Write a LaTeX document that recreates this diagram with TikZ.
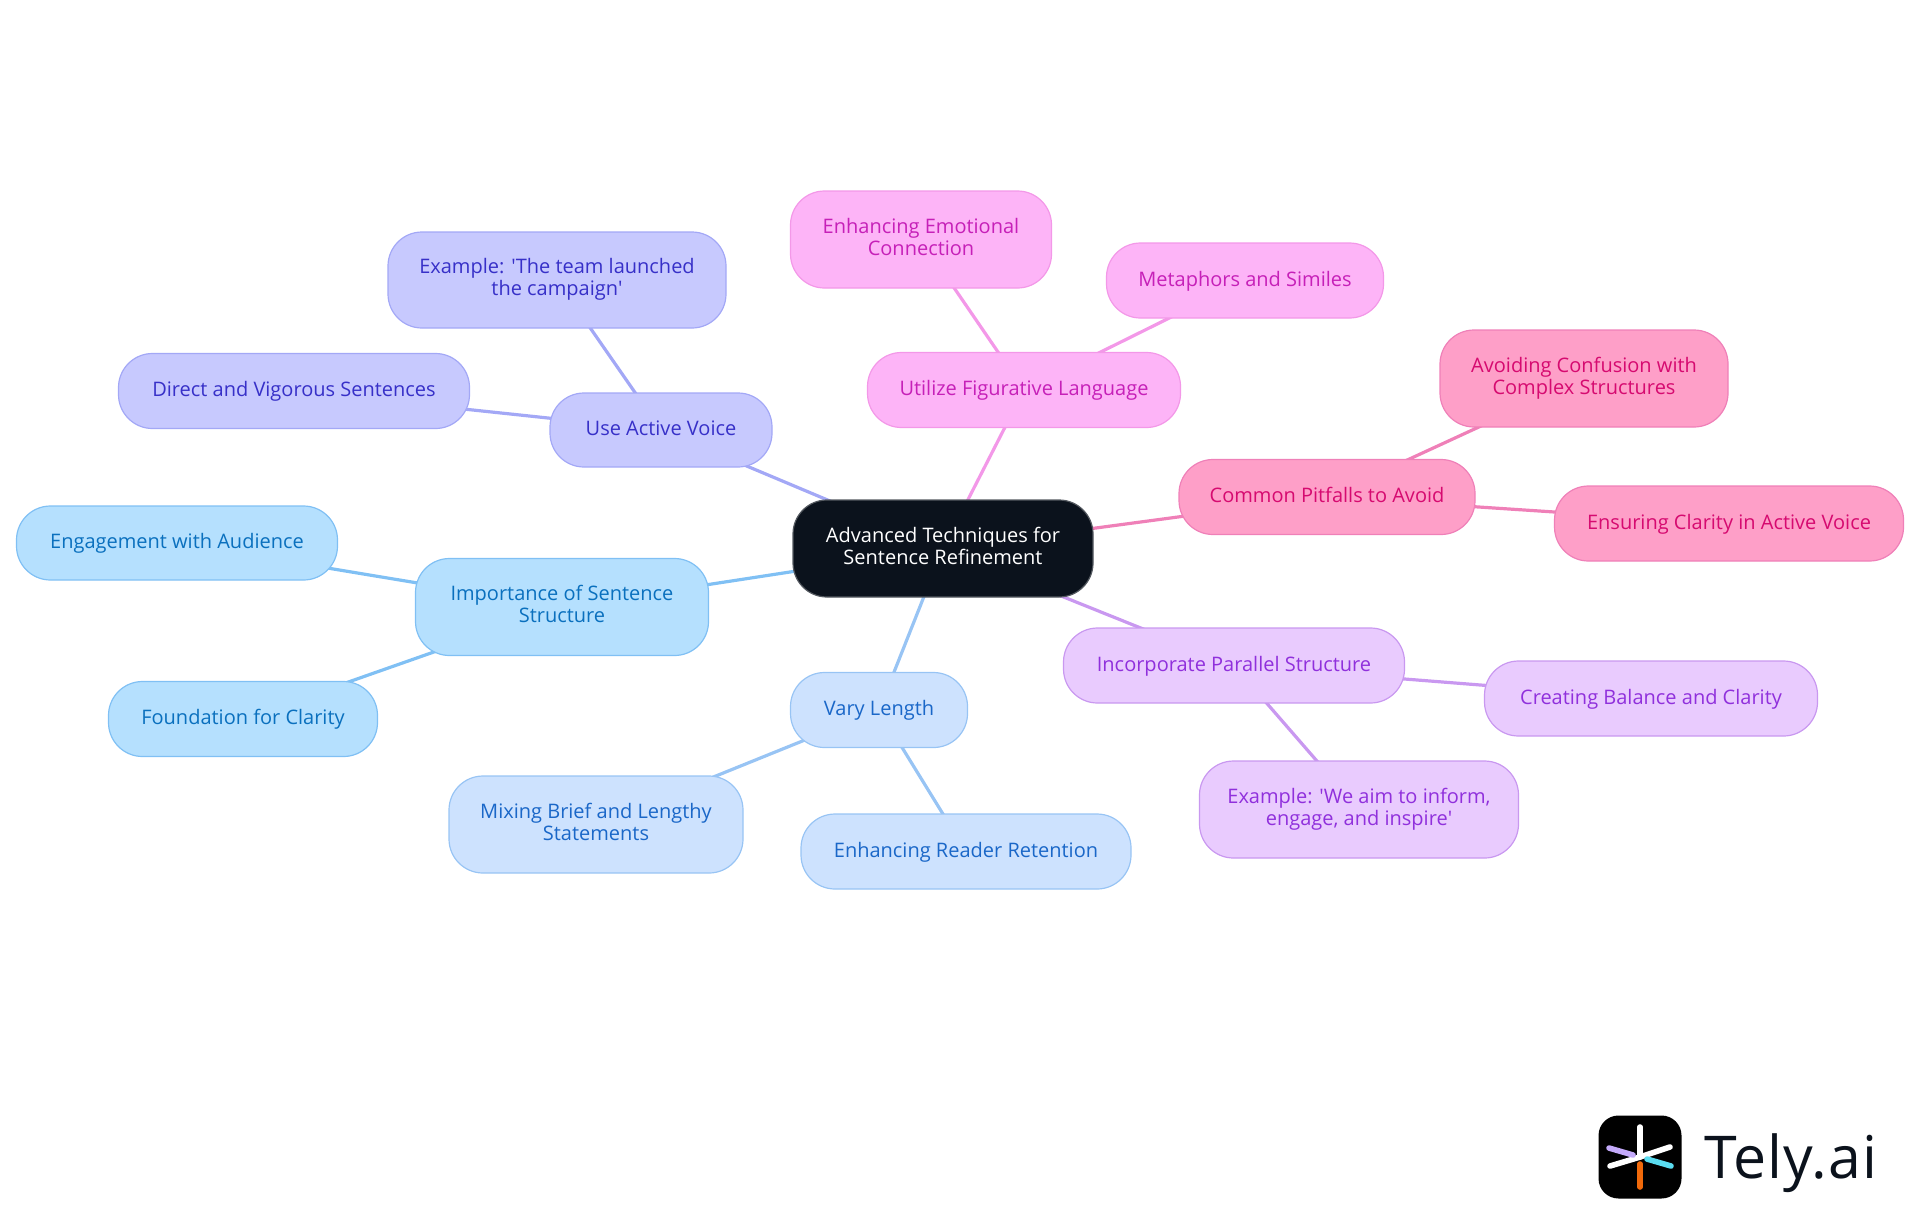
\documentclass[tikz,border=0pt]{standalone}
\usepackage{fontspec}
\setmainfont{Open Sans}
\usetikzlibrary{backgrounds}

\definecolor{voiceF}{HTML}{C7C9FE}
\definecolor{voiceD}{HTML}{A3A8F6}
\definecolor{voiceT}{HTML}{3730C8}
\definecolor{figF}{HTML}{FDB4F7}
\definecolor{figD}{HTML}{F398E8}
\definecolor{figT}{HTML}{C620B8}
\definecolor{pitF}{HTML}{FE9FC8}
\definecolor{pitD}{HTML}{EF80B8}
\definecolor{pitT}{HTML}{D60A70}
\definecolor{parF}{HTML}{E9CBFE}
\definecolor{parD}{HTML}{C998F0}
\definecolor{parT}{HTML}{9030DC}
\definecolor{varyF}{HTML}{CDE2FE}
\definecolor{varyD}{HTML}{98C4F4}
\definecolor{varyT}{HTML}{1A67C8}
\definecolor{strF}{HTML}{B5E0FE}
\definecolor{strD}{HTML}{80C0F4}
\definecolor{strT}{HTML}{0A70BE}
\definecolor{rootF}{HTML}{0B121C}
\newcommand{\sq}{\textquotesingle}
\newcommand{\lnstrut}{\rule[-2.7pt]{0pt}{11pt}}

\begin{document}
\begin{tikzpicture}[x=0.5pt,y=-0.5pt,
  blk/.style={draw,rounded corners=17pt,line width=0.6pt,inner sep=0pt,font=\fontsize{10}{11}\selectfont,align=center,
    execute at begin node=\lnstrut,execute at end node=\lnstrut},
  voice/.style={blk,fill=voiceF,draw=voiceD,text=voiceT},
  fig/.style={blk,fill=figF,draw=figD,text=figT},
  pit/.style={blk,fill=pitF,draw=pitD,text=pitT},
  par/.style={blk,fill=parF,draw=parD,text=parT},
  vary/.style={blk,fill=varyF,draw=varyD,text=varyT},
  str/.style={blk,fill=strF,draw=strD,text=strT},
  spoke/.style={line width=2.8pt,line cap=round}]
  \useasboundingbox (0,0) rectangle (1920,1215);

  \node[blk,fill=rootF,draw=rootF!70!white,text=white,minimum width=150pt,minimum height=48.5pt] (root) at (943,548.5) {Advanced Techniques for\\Sentence Refinement};

  \node[voice,minimum width=111pt,minimum height=37pt] (active) at (661,430) {Use Active Voice};
  \node[voice,minimum width=169pt,minimum height=48pt] (team) at (557,280) {Example: \sq The team launched\\the campaign\sq};
  \node[voice,minimum width=175.5pt,minimum height=37.5pt] (direct) at (294,391) {Direct and Vigorous Sentences};

  \node[fig,minimum width=156.5pt,minimum height=37.5pt] (figur) at (1024,390) {Utilize Figurative Language};
  \node[fig,minimum width=130.5pt,minimum height=48.5pt] (emot) at (921,239.5) {Enhancing Emotional\\Connection};
  \node[fig,minimum width=138.5pt,minimum height=37.5pt] (meta) at (1245,280.5) {Metaphors and Similes};

  \node[pit,minimum width=148pt,minimum height=37.5pt] (pitf) at (1327,497) {Common Pitfalls to Avoid};
  \node[pit,minimum width=144pt,minimum height=48.5pt] (conf) at (1584,378.5) {Avoiding Confusion with\\Complex Structures};
  \node[pit,minimum width=174.5pt,minimum height=37.5pt] (clar) at (1729,523.5) {Ensuring Clarity in Active Voice};

  \node[par,minimum width=170.5pt,minimum height=37.5pt] (para) at (1234,665.5) {Incorporate Parallel Structure};
  \node[par,minimum width=166.5pt,minimum height=37.5pt] (bala) at (1651,698.5) {Creating Balance and Clarity};
  \node[par,minimum width=159.5pt,minimum height=48.5pt] (aim) at (1359,809.5) {Example: \sq We aim to inform,\\engage, and inspire\sq};

  \node[vary,minimum width=88.5pt,minimum height=37.5pt] (vlen) at (879,710) {Vary Length};
  \node[vary,minimum width=147pt,minimum height=48.5pt] (mix) at (596,824.5) {Mixing Brief and Lengthy\\Statements};
  \node[vary,minimum width=165pt,minimum height=37.5pt] (ret) at (966,851.5) {Enhancing Reader Retention};

  \node[str,minimum width=146.5pt,minimum height=48.5pt] (impo) at (562,607) {Importance of Sentence\\Structure};
  \node[str,minimum width=160.5pt,minimum height=37pt] (enga) at (177,543) {Engagement with Audience};
  \node[str,minimum width=134.5pt,minimum height=37.5pt] (foun) at (243,719) {Foundation for Clarity};

  \begin{scope}[on background layer]
    \foreach \a/\b/\c in {root/active/voiceD,active/team/voiceD,active/direct/voiceD,
      root/figur/figD,figur/emot/figD,figur/meta/figD,
      root/pitf/pitD,pitf/conf/pitD,pitf/clar/pitD,
      root/para/parD,para/bala/parD,para/aim/parD,
      root/vlen/varyD,vlen/mix/varyD,vlen/ret/varyD,
      root/impo/strD,impo/enga/strD,impo/foun/strD}
      \draw[\c,line width=1.6pt] (\a.center) -- (\b.center);
  \end{scope}

  % logo
  \node[fill=black,rounded corners=10pt,minimum width=41.5pt,minimum height=41.5pt,inner sep=0pt] (logo) at (1640,1157) {};
  \draw[spoke,white] (logo.center) -- ++(0,-30);
  \draw[spoke,white] (logo.center) -- ++(-30,9);
  \draw[spoke,white] (logo.center) -- ++(30,-10);
  \draw[spoke,color={rgb,255:red,196;green,170;blue,250}] (logo.center) ++(-7,-2) -- ++(-24,-7);
  \draw[spoke,color={rgb,255:red,90;green,220;blue,240}] (logo.center) ++(7,2) -- ++(24,7);
  \draw[spoke,color={rgb,255:red,240;green,105;blue,10}] (logo.center) ++(0,7) -- ++(0,23);
  \node[anchor=base west,inner sep=0pt,text=rootF,font=\fontsize{29.5}{29.5}\selectfont\addfontfeature{LetterSpace=1.5}] (brand) at (1704,1178) {Tely.ai};
\end{tikzpicture}
\end{document}
